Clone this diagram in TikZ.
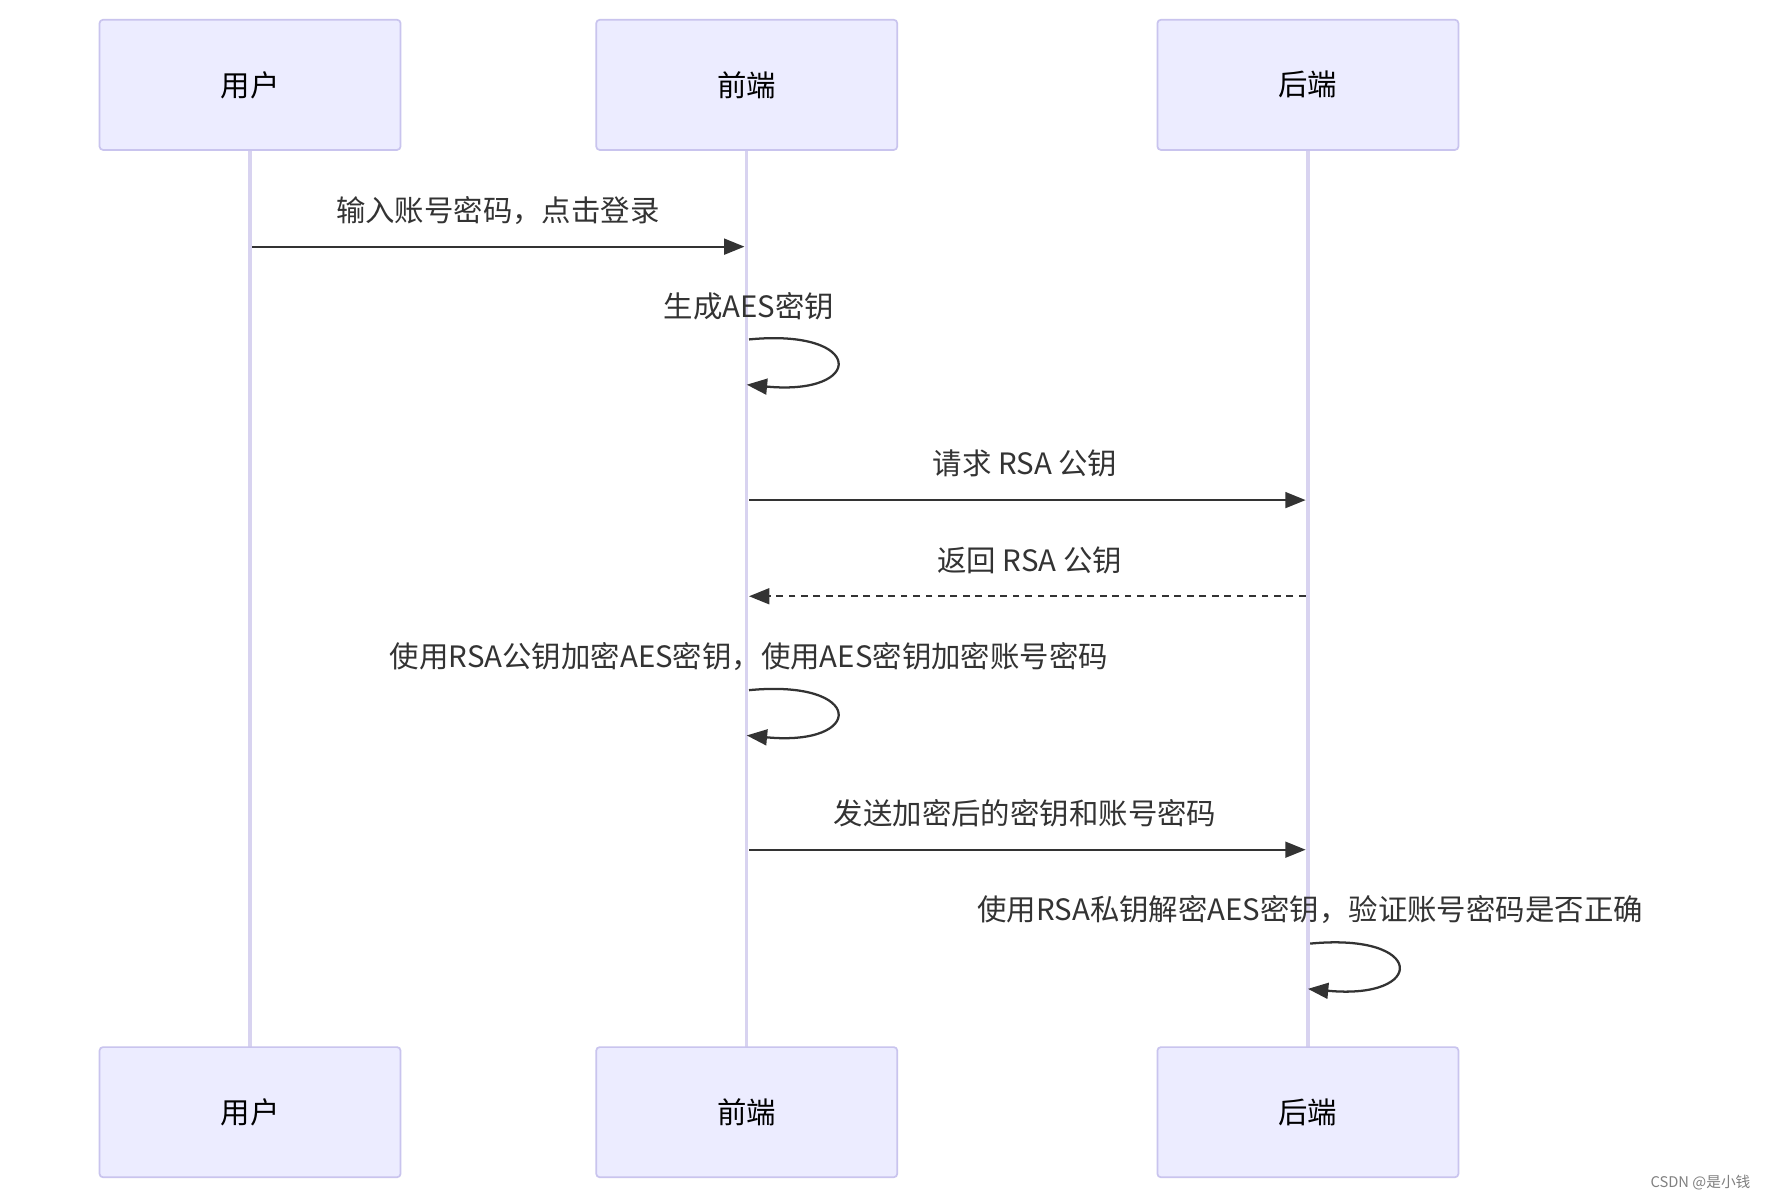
\documentclass[tikz,border=0pt]{standalone}
\usepackage{fontspec}
\setmainfont{Noto Sans CJK SC}
\usetikzlibrary{arrows.meta}
\definecolor{boxfill}{HTML}{ECECFF}
\definecolor{boxdraw}{HTML}{C9C4EE}
\definecolor{life}{HTML}{D8D3F0}
\definecolor{ink}{HTML}{333333}
\begin{document}
\begin{tikzpicture}[x=1pt,y=-1pt,
  actor/.style={draw=boxdraw,fill=boxfill,line width=1.5pt,rounded corners=3pt,minimum width=266pt,minimum height=115pt,font=\fontsize{26}{30}\selectfont,text=black},
  lifeline/.style={draw=life,line width=3pt},
  msg/.style={draw=ink,line width=2pt,-{Triangle[length=18pt,width=14pt]}},
  lbl/.style={font=\fontsize{26}{30}\selectfont,text=ink}]
\useasboundingbox (0,0) rectangle (1560,1055);
\fill[white] (0,0) rectangle (1560,1055);
% lifelines
\draw[lifeline] (221,133) -- (221,925);
\draw[lifeline] (660,133) -- (660,925);
\draw[lifeline] (1156,133) -- (1156,925);
% actors
\node[actor] (u1) at (221,75) {用户};
\node[actor] (f1) at (660,75) {前端};
\node[actor] (b1) at (1156,75) {后端};
\node[actor] (u2) at (221,983) {用户};
\node[actor] (f2) at (660,983) {前端};
\node[actor] (b2) at (1156,983) {后端};
% coordinates
\coordinate (m1s) at (223,218); \coordinate (m1e) at (658,218);
\coordinate (m2s) at (662,442); \coordinate (m2e) at (1154,442);
\coordinate (m3s) at (1154,527); \coordinate (m3e) at (662,527);
\coordinate (m4s) at (662,751); \coordinate (m4e) at (1154,751);
\coordinate (l1s) at (662,300); \coordinate (l1e) at (660,340);
\coordinate (l2s) at (662,610); \coordinate (l2e) at (660,650);
\coordinate (l3s) at (1158,834); \coordinate (l3e) at (1156,874);
% messages
\draw[msg] (m1s) -- (m1e);
\node[lbl] at (440,186) {输入账号密码，点击登录};
\draw[msg] (l1s) .. controls (765,290) and (765,350) .. (l1e);
\node[lbl] at (662,271) {生成AES密钥};
\draw[msg] (m2s) -- (m2e);
\node[lbl] at (906,410) {请求 RSA 公钥};
\draw[msg,dashed,dash pattern=on 6pt off 5pt] (m3s) -- (m3e);
\node[lbl] at (910,495) {返回 RSA 公钥};
\draw[msg] (l2s) .. controls (765,600) and (765,660) .. (l2e);
\node[lbl] at (662,580) {使用RSA公钥加密AES密钥，使用AES密钥加密账号密码};
\draw[msg] (m4s) -- (m4e);
\node[lbl] at (906,719) {发送加密后的密钥和账号密码};
\draw[msg] (l3s) .. controls (1261,824) and (1261,884) .. (l3e);
\node[lbl] at (1158,804) {使用RSA私钥解密AES密钥，验证账号密码是否正确};
\node[font=\fontsize{13}{15}\selectfont,text=gray] at (1503,1045) {CSDN @是小钱};
\end{tikzpicture}
\end{document}
